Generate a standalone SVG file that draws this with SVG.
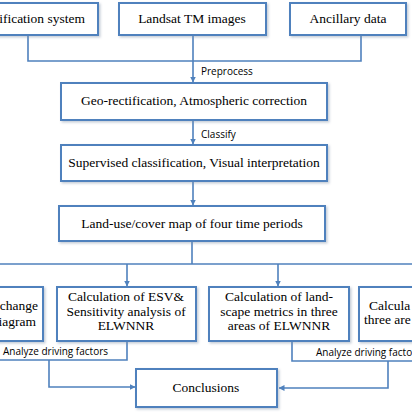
<svg xmlns="http://www.w3.org/2000/svg" width="412" height="412" viewBox="0 0 412 412">
<defs>
<marker id="ah" viewBox="0 0 6 6" refX="5.5" refY="3" markerWidth="6" markerHeight="6" markerUnits="userSpaceOnUse" orient="auto">
<path d="M0,0 L6,3 L0,6 Z" fill="#4F81BD"/>
</marker>
<filter id="sh" x="-10%" y="-10%" width="130%" height="140%">
<feDropShadow dx="1.5" dy="1.5" stdDeviation="1" flood-color="#7f8fa6" flood-opacity="0.45"/>
</filter>
</defs>
<style>
.box{fill:#fff;stroke:#4F81BD;stroke-width:2;filter:url(#sh)}
.t{font-family:"Liberation Serif","Times New Roman",serif;font-size:13.5px;fill:#000}
.c{text-anchor:middle}
.l{font-family:"Open Sans","Liberation Sans",sans-serif;font-size:10px;fill:#000}
.ln{fill:none;stroke:#4F81BD;stroke-width:1.6}
</style>
<rect width="412" height="412" fill="#fff"/>
<g id="connectors">
<polyline class="ln" points="28,36 28,61 361,61 361,36"/>
<line class="ln" x1="193" y1="36" x2="193" y2="82" marker-end="url(#ah)"/>
<line class="ln" x1="193" y1="121" x2="193" y2="144" marker-end="url(#ah)"/>
<line class="ln" x1="193" y1="182" x2="193" y2="205" marker-end="url(#ah)"/>
<line class="ln" x1="192" y1="242" x2="192" y2="264"/>
<line class="ln" x1="0" y1="264" x2="412" y2="264"/>
<line class="ln" x1="127" y1="264" x2="127" y2="286" marker-end="url(#ah)"/>
<line class="ln" x1="278" y1="264" x2="278" y2="286" marker-end="url(#ah)"/>
<polyline class="ln" points="127,342 127,360 0,360"/>
<polyline class="ln" points="49,360 49,387 135,387" marker-end="url(#ah)"/>
<polyline class="ln" points="292,342 292,361 412,361"/>
<polyline class="ln" points="388,361 388,388 279,388" marker-end="url(#ah)"/>
<text class="l" x="201" y="75">Preprocess</text>
<text class="l" x="201" y="138">Classify</text>
<text class="l" x="3" y="355">Analyze driving factors</text>
<text class="l" x="316" y="356">Analyze driving factors</text>
</g>
<g id="n-classification">
<rect class="box" x="-10" y="3" width="108" height="32"/>
<text class="t" x="85" y="23" text-anchor="end">ification system</text>
</g>
<g id="n-landsat">
<rect class="box" x="119" y="3" width="147" height="32"/>
<text class="t c" x="192" y="23">Landsat TM images</text>
</g>
<g id="n-ancillary">
<rect class="box" x="290" y="3" width="116" height="32"/>
<text class="t c" x="348" y="23">Ancillary data</text>
</g>
<g id="n-geo">
<rect class="box" x="61" y="83" width="266" height="37"/>
<text class="t c" x="194" y="105">Geo-rectification, Atmospheric correction</text>
</g>
<g id="n-supervised">
<rect class="box" x="61" y="145" width="266" height="36"/>
<text class="t c" x="194" y="167">Supervised classification, Visual interpretation</text>
</g>
<g id="n-landuse">
<rect class="box" x="59" y="206" width="266" height="35"/>
<text class="t c" x="192" y="228">Land-use/cover map of four time periods</text>
</g>
<g id="n-change">
<rect class="box" x="-10" y="287" width="53" height="54"/>
<text class="t" x="38" y="310" text-anchor="end">change</text>
<text class="t" x="36" y="326" text-anchor="end">iagram</text>
</g>
<g id="n-esv">
<rect class="box" x="57" y="287" width="139" height="54"/>
<text class="t c" x="126" y="301">Calculation of ESV&amp;</text>
<text class="t c" x="126" y="315.5">Sensitivity analysis of</text>
<text class="t c" x="126" y="330">ELWNNR</text>
</g>
<g id="n-landscape">
<rect class="box" x="209" y="287" width="140" height="54"/>
<text class="t c" x="279" y="301">Calculation of land-</text>
<text class="t c" x="279" y="315.5">scape metrics in three</text>
<text class="t c" x="279" y="330">areas of ELWNNR</text>
</g>
<g id="n-right">
<rect class="box" x="359" y="287" width="70" height="54"/>
<text class="t" x="369" y="310">Calcula</text>
<text class="t" x="364" y="324">three are</text>
</g>
<g id="n-conclusions">
<rect class="box" x="136" y="369" width="141" height="38"/>
<text class="t c" x="206" y="392">Conclusions</text>
</g>
</svg>
